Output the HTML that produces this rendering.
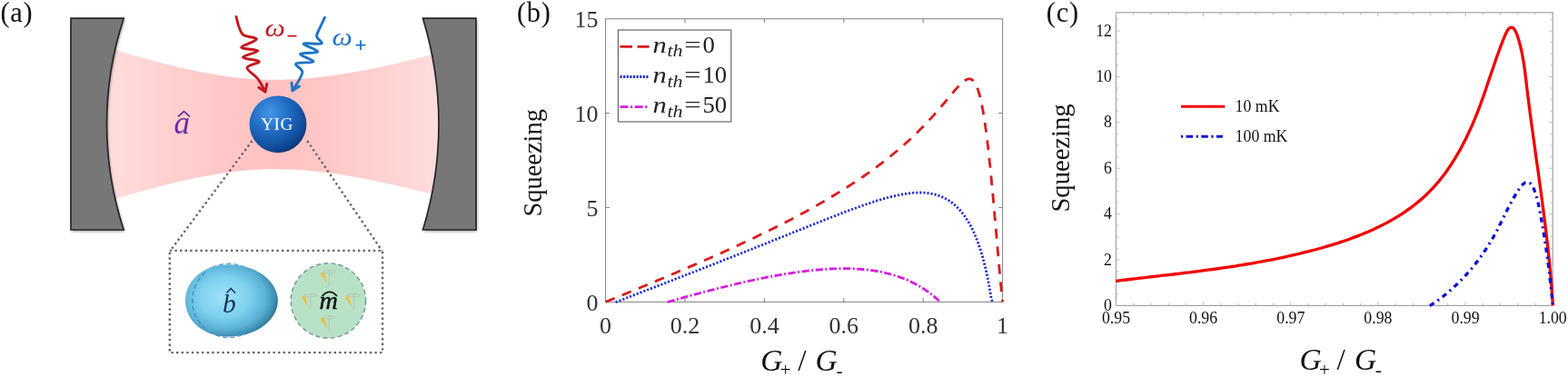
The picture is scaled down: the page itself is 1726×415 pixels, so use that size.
<!DOCTYPE html>
<html><head><meta charset="utf-8"><title>Figure</title>
<style>
html,body{margin:0;padding:0;background:#fff;}
body{width:1726px;height:415px;overflow:hidden;font-family:"Liberation Serif",serif;}
svg{display:block;}
text{font-family:"Liberation Serif",serif;}
</style></head><body>
<svg width="1726" height="415" viewBox="0 0 1726 415">
<rect width="1726" height="415" fill="#ffffff"/>
<defs>
<linearGradient id="beam" x1="0" x2="1" y1="0" y2="0"><stop offset="0" stop-color="#ffdede"/><stop offset="0.2" stop-color="#ffd0d0"/><stop offset="0.36" stop-color="#ffc7c7"/><stop offset="0.5" stop-color="#ffc2c2"/><stop offset="0.64" stop-color="#ffc7c7"/><stop offset="0.8" stop-color="#ffd0d0"/><stop offset="1" stop-color="#ffdede"/></linearGradient>
<radialGradient id="yig" cx="0.36" cy="0.30" r="0.78"><stop offset="0" stop-color="#4496ea"/><stop offset="0.45" stop-color="#1f6ac2"/><stop offset="0.8" stop-color="#114a98"/><stop offset="1" stop-color="#0a2f6c"/></radialGradient>
<radialGradient id="egg" cx="0.42" cy="0.45" r="0.6"><stop offset="0" stop-color="#9fe3f8"/><stop offset="0.45" stop-color="#7fd1ee"/><stop offset="0.75" stop-color="#5ab2d6"/><stop offset="0.92" stop-color="#3c8cae"/><stop offset="1" stop-color="#286f8c"/></radialGradient>
<filter id="sh" x="-20%" y="-20%" width="150%" height="150%"><feGaussianBlur stdDeviation="1.6"/></filter>
<filter id="soft" x="-5%" y="-5%" width="110%" height="110%"><feGaussianBlur stdDeviation="0.6"/></filter>
</defs>
<g id="panel-a">
<text x="0.5" y="24" font-size="30.5" letter-spacing="0.7" fill="#111">(a)</text>
<path d="M116.0,51.8L120.7,53.2L125.3,54.6L129.9,56.0L134.6,57.4L139.2,58.7L143.9,60.1L148.6,61.4L153.2,62.7L157.8,64.0L162.5,65.3L167.2,66.5L171.8,67.8L176.4,69.0L181.1,70.2L185.8,71.3L190.4,72.5L195.1,73.6L199.7,74.7L204.4,75.7L209.0,76.7L213.7,77.7L218.3,78.7L222.9,79.6L227.6,80.5L232.2,81.3L236.9,82.1L241.6,82.9L246.2,83.6L250.9,84.2L255.5,84.8L260.1,85.4L264.8,85.9L269.5,86.3L274.1,86.7L278.8,87.0L283.4,87.3L288.1,87.5L292.7,87.7L297.4,87.8L302.0,87.8L306.6,87.8L311.3,87.7L316.0,87.6L320.6,87.4L325.2,87.2L329.9,86.9L334.6,86.6L339.2,86.2L343.9,85.8L348.5,85.3L353.1,84.8L357.8,84.3L362.5,83.7L367.1,83.0L371.8,82.4L376.4,81.7L381.1,80.9L385.7,80.1L390.4,79.3L395.0,78.5L399.7,77.6L404.3,76.7L409.0,75.8L413.6,74.8L418.2,73.8L422.9,72.8L427.6,71.8L432.2,70.8L436.9,69.7L441.5,68.6L446.2,67.5L450.8,66.4L455.5,65.2L460.1,64.1L464.8,62.9L469.4,61.7L474.1,60.5L478.7,59.3L483.4,58.0L488.0,56.8L488.0,217.2L483.4,216.0L478.7,214.7L474.1,213.5L469.4,212.3L464.8,211.1L460.1,209.9L455.5,208.8L450.8,207.6L446.2,206.5L441.5,205.4L436.9,204.3L432.2,203.2L427.6,202.2L422.9,201.2L418.2,200.2L413.6,199.2L409.0,198.2L404.3,197.3L399.7,196.4L395.0,195.5L390.4,194.7L385.7,193.9L381.1,193.1L376.4,192.3L371.8,191.6L367.1,191.0L362.5,190.3L357.8,189.7L353.1,189.2L348.5,188.7L343.9,188.2L339.2,187.8L334.6,187.4L329.9,187.1L325.2,186.8L320.6,186.6L316.0,186.4L311.3,186.3L306.6,186.2L302.0,186.2L297.4,186.2L292.7,186.3L288.1,186.5L283.4,186.7L278.8,187.0L274.1,187.3L269.5,187.7L264.8,188.1L260.1,188.6L255.5,189.2L250.9,189.8L246.2,190.4L241.6,191.1L236.9,191.9L232.2,192.7L227.6,193.5L222.9,194.4L218.3,195.3L213.7,196.3L209.0,197.3L204.4,198.3L199.7,199.3L195.1,200.4L190.4,201.5L185.8,202.7L181.1,203.8L176.4,205.0L171.8,206.2L167.2,207.5L162.5,208.7L157.8,210.0L153.2,211.3L148.6,212.6L143.9,213.9L139.2,215.3L134.6,216.6L129.9,218.0L125.3,219.4L120.7,220.8L116.0,222.2 Z" fill="url(#beam)" filter="url(#soft)"/>
<g><path d="M78,20.2 L136.2,20.2 A371.6,371.6 0 0 0 136.2,253 L78,253 Z" fill="#000" opacity="0.4" filter="url(#sh)" transform="translate(1.2,1.8)"/><path d="M78,20.2 L136.2,20.2 A371.6,371.6 0 0 0 136.2,253 L78,253 Z" fill="#777777" stroke="#262626" stroke-width="1.7" stroke-linejoin="miter"/></g>
<g><path d="M524,20.2 L465.5,20.2 A396,396 0 0 1 465.5,253 L524,253 Z" fill="#000" opacity="0.4" filter="url(#sh)" transform="translate(1.2,1.8)"/><path d="M524,20.2 L465.5,20.2 A396,396 0 0 1 465.5,253 L524,253 Z" fill="#777777" stroke="#262626" stroke-width="1.7" stroke-linejoin="miter"/></g>
<g stroke="#666" stroke-width="2.4" stroke-dasharray="2.4 3.2" fill="none">
<path d="M277.5,155 L187.5,276"/>
<path d="M338.2,155 L420.5,276"/>
<rect x="186.8" y="275.9" width="234.3" height="112.2"/>
</g>
<circle cx="306" cy="136.8" r="31.4" fill="url(#yig)"/>
<text x="305" y="143.4" font-size="19.2" letter-spacing="0.4" fill="#fff" text-anchor="middle">YIG</text>
<path d="M260.0,18.4C260.5,20.2 261.6,25.9 262.9,29.3C264.2,32.6 264.8,36.2 268.0,38.5C271.2,40.8 282.8,41.0 282.4,43.3C282.0,45.6 265.4,50.1 265.6,52.2C265.9,54.3 283.6,54.2 283.9,56.0C284.2,57.8 267.2,61.0 267.4,63.0C267.6,65.0 284.4,65.9 285.2,67.8C286.0,69.7 272.2,71.4 272.0,74.6C271.8,77.8 280.7,82.6 284.0,87.0C287.3,91.4 290.7,98.7 292.0,101.0" fill="none" stroke="#c4161c" stroke-width="2.9" stroke-linecap="round" stroke-linejoin="round"/><path d="M284.8,96.2 L292.0,101.0 L293.8,92.3" fill="none" stroke="#c4161c" stroke-width="2.9" stroke-linecap="round" stroke-linejoin="round"/>
<path d="M357.5,19.2C356.6,21.1 353.7,27.0 352.2,30.5C350.7,34.0 348.3,37.2 348.6,40.1C348.9,43.0 356.3,46.8 353.9,48.1C351.5,49.4 334.8,46.6 334.1,48.1C333.4,49.6 350.4,55.1 349.8,57.0C349.2,58.9 331.3,57.6 330.5,59.4C329.7,61.2 345.7,66.0 344.9,67.8C344.1,69.6 327.7,68.2 325.7,70.2C323.7,72.2 333.5,75.0 332.9,79.9C332.3,84.8 323.8,96.5 322.0,99.8" fill="none" stroke="#1f74c4" stroke-width="2.9" stroke-linecap="round" stroke-linejoin="round"/><path d="M321.0,91.2 L322.0,99.8 L329.4,95.0" fill="none" stroke="#1f74c4" stroke-width="2.9" stroke-linecap="round" stroke-linejoin="round"/>
<text transform="translate(291.5,39.6) scale(1.13,1)" font-size="28" font-style="italic" fill="#c4161c">ω</text>
<path d="M316.5,39.6 H326.5" stroke="#c4161c" stroke-width="1.8" fill="none"/>
<text transform="translate(365.5,49.6) scale(1.13,1)" font-size="28" font-style="italic" fill="#1f74c4">ω</text>
<path d="M391.5,49.6 H402.5 M397,44.2 V55" stroke="#1f74c4" stroke-width="1.8" fill="none"/>
<text x="191.5" y="147" font-size="35" font-style="italic" fill="#6a2d9c">a</text>
<path d="M196,128.4 L202.5,122.6 L209,128.4" fill="none" stroke="#6a2d9c" stroke-width="1.8"/>
<circle cx="252" cy="330.9" r="40.7" fill="none" stroke="#5b9bd5" stroke-width="1.3" stroke-dasharray="5 3.2"/>
<path d="M251,291.3 C284,291.3 305.8,311 305.8,331 C305.8,351 284,370.6 251,370.6 C224,370.6 204,353 204,331 C204,309 224,291.3 251,291.3 Z" fill="url(#egg)"/>
<path d="M226,300 A40.3,40.3 0 0 0 226,361.5" fill="none" stroke="#3f8cc4" stroke-width="1.3" stroke-dasharray="5 3.2"/>
<text x="245" y="344.4" font-size="29.5" font-style="italic" fill="#16305a">b</text>
<path d="M249.4,322.6 L254.2,317.6 L259,322.6" fill="none" stroke="#16305a" stroke-width="1.5"/>
<circle cx="361.4" cy="331" r="41.2" fill="#b8e2c5" stroke="#6f92a2" stroke-width="1.4" stroke-dasharray="5 3.2"/>
<g transform="translate(362.3,299.3)"><path d="M-10,1.2 L-5.5,0.8 L-2.2,13.5 Z" fill="#ecbf45"/><ellipse cx="0" cy="0" rx="7" ry="1.7" fill="none" stroke="#b0c6b8" stroke-width="1" opacity="0.85"/><path d="M0,-2.5 L0,15.5" stroke="#b0c6b8" stroke-width="1.2" opacity="0.85"/></g>
<g transform="translate(362.3,349.2)"><path d="M-10,1.2 L-5.5,0.8 L-2.2,13.5 Z" fill="#ecbf45"/><ellipse cx="0" cy="0" rx="7" ry="1.7" fill="none" stroke="#b0c6b8" stroke-width="1" opacity="0.85"/><path d="M0,-2.5 L0,15.5" stroke="#b0c6b8" stroke-width="1.2" opacity="0.85"/></g>
<g transform="translate(341.7,325.2)"><path d="M-10,1.2 L-5.5,0.8 L-2.2,13.5 Z" fill="#ecbf45"/><ellipse cx="0" cy="0" rx="7" ry="1.7" fill="none" stroke="#b0c6b8" stroke-width="1" opacity="0.85"/><path d="M0,-2.5 L0,15.5" stroke="#b0c6b8" stroke-width="1.2" opacity="0.85"/></g>
<g transform="translate(389.4,325.2)"><path d="M-10,1.2 L-5.5,0.8 L-2.2,13.5 Z" fill="#ecbf45"/><ellipse cx="0" cy="0" rx="7" ry="1.7" fill="none" stroke="#b0c6b8" stroke-width="1" opacity="0.85"/><path d="M0,-2.5 L0,15.5" stroke="#b0c6b8" stroke-width="1.2" opacity="0.85"/></g>
<text x="351.4" y="340.2" font-size="28.2" font-style="italic" fill="#111" stroke="#111" stroke-width="0.45">m</text>
<path d="M354.6,326 Q362.8,316.6 371,326" fill="none" stroke="#111" stroke-width="1.7"/>
</g>
<g id="panel-b">
<text x="569" y="24" font-size="30.5" letter-spacing="0.7" fill="#111">(b)</text>
<rect x="666.6" y="20.7" width="437.0" height="311.7" fill="none" stroke="#8c8c8c" stroke-width="1.1"/>
<path d="M754.0,332.4 v-4.5 M754.0,20.7 v4.5 M841.4,332.4 v-4.5 M841.4,20.7 v4.5 M928.8,332.4 v-4.5 M928.8,20.7 v4.5 M1016.2,332.4 v-4.5 M1016.2,20.7 v4.5 M666.6,228.5 h4.5 M1103.6,228.5 h-4.5 M666.6,124.6 h4.5 M1103.6,124.6 h-4.5" stroke="#8c8c8c" stroke-width="1.1" fill="none"/>
<text x="666.6" y="366.5" font-size="26" fill="#333" text-anchor="middle">0</text>
<text x="754.0" y="366.5" font-size="26" fill="#333" text-anchor="middle">0.2</text>
<text x="841.4" y="366.5" font-size="26" fill="#333" text-anchor="middle">0.4</text>
<text x="928.8" y="366.5" font-size="26" fill="#333" text-anchor="middle">0.6</text>
<text x="1016.2" y="366.5" font-size="26" fill="#333" text-anchor="middle">0.8</text>
<text x="1103.6" y="366.5" font-size="26" fill="#333" text-anchor="middle">1</text>
<text x="658.5" y="341.7" font-size="26" fill="#333" text-anchor="end">0</text>
<text x="658.5" y="237.8" font-size="26" fill="#333" text-anchor="end">5</text>
<text x="658.5" y="133.9" font-size="26" fill="#333" text-anchor="end">10</text>
<text x="658.5" y="30.0" font-size="26" fill="#333" text-anchor="end">15</text>
<text transform="translate(596.3,179.3) rotate(-90)" font-size="28.4" fill="#111" text-anchor="middle">Squeezing</text>
<text x="837.3" y="407.8" font-size="33.5" font-style="italic" fill="#111">G</text><text x="864.6" y="414.4" font-size="21" fill="#111" text-anchor="middle">+</text><text x="878.3" y="407.8" font-size="33.5" fill="#111">/</text><text x="897.6" y="407.8" font-size="33.5" font-style="italic" fill="#111">G</text><text x="923.9" y="415.0" font-size="21" fill="#111" text-anchor="middle">-</text>
<path d="M666.6,332.4L672.9,329.8L679.2,327.2L685.5,324.6L691.8,322.0L698.1,319.4L704.4,316.8L710.7,314.2L717.0,311.6L723.3,308.9L729.6,306.3L735.9,303.6L742.1,301.0L748.4,298.3L754.7,295.6L761.0,292.9L767.3,290.2L773.6,287.4L779.9,284.7L786.2,281.9L792.5,279.1L798.8,276.3L805.1,273.4L811.4,270.5L817.7,267.6L824.0,264.6L830.3,261.7L836.6,258.6L842.9,255.6L849.2,252.5L855.5,249.3L861.8,246.2L868.1,242.9L874.4,239.6L880.7,236.3L887.0,232.9L893.2,229.4L899.5,225.9L905.8,222.3L912.1,218.6L918.4,214.8L924.7,210.9L931.0,207.0L937.3,202.9L943.6,198.8L949.9,194.5L956.2,190.1L962.5,185.5L968.8,180.8L975.1,176.0L981.4,171.0L987.7,165.7L994.0,160.3L1000.3,154.7L1006.6,148.8L1012.9,142.6L1019.2,136.2L1025.5,129.4L1031.8,122.4L1038.0,115.0L1038.4,114.6L1038.7,114.2L1039.0,113.9L1039.4,113.5L1039.7,113.1L1040.0,112.7L1040.4,112.3L1040.7,111.9L1041.0,111.5L1041.3,111.1L1041.7,110.7L1042.0,110.3L1042.3,109.9L1042.7,109.5L1043.0,109.1L1043.3,108.7L1043.6,108.3L1044.0,107.9L1044.3,107.5L1044.6,107.1L1045.0,106.7L1045.3,106.3L1045.6,105.9L1046.0,105.5L1046.3,105.1L1046.6,104.7L1046.9,104.3L1047.3,103.9L1047.6,103.5L1047.9,103.1L1048.3,102.8L1048.6,102.4L1048.9,102.0L1049.2,101.6L1049.6,101.2L1049.9,100.8L1050.2,100.4L1050.6,100.0L1050.9,99.6L1051.2,99.2L1051.6,98.9L1051.9,98.5L1052.2,98.1L1052.5,97.7L1052.9,97.4L1053.2,97.0L1053.5,96.6L1053.9,96.2L1054.2,95.9L1054.5,95.5L1054.8,95.2L1055.2,94.8L1055.5,94.5L1055.8,94.1L1056.2,93.8L1056.5,93.4L1056.8,93.1L1057.2,92.8L1057.5,92.4L1057.8,92.1L1058.1,91.8L1058.5,91.5L1058.8,91.2L1059.1,90.9L1059.5,90.6L1059.8,90.3L1060.1,90.1L1060.4,89.8L1060.8,89.5L1061.1,89.3L1061.4,89.0L1061.8,88.8L1062.1,88.6L1062.4,88.4L1062.8,88.2L1063.1,88.0L1063.4,87.8L1063.7,87.7L1064.1,87.5L1064.4,87.4L1064.7,87.3L1065.1,87.2L1065.4,87.1L1065.7,87.0L1066.0,86.9L1066.4,86.9L1066.7,86.9L1067.0,86.9L1067.4,86.9L1067.7,86.9L1068.0,87.0L1068.4,87.1L1068.7,87.2L1069.0,87.3L1069.3,87.5L1069.7,87.6L1070.0,87.8L1070.3,88.1L1070.7,88.3L1071.0,88.6L1071.3,89.0L1071.6,89.3L1072.0,89.7L1072.3,90.1L1072.6,90.6L1073.0,91.1L1073.3,91.6L1073.6,92.1L1074.0,92.7L1074.3,93.4L1074.6,94.1L1074.9,94.8L1075.3,95.6L1075.6,96.4L1075.9,97.2L1076.3,98.1L1076.6,99.1L1076.9,100.1L1077.2,101.1L1077.6,102.2L1077.9,103.4L1078.2,104.5L1078.6,105.8L1078.9,107.1L1079.2,108.5L1079.6,109.9L1079.9,111.3L1080.2,112.8L1080.5,114.4L1080.9,116.1L1081.2,117.8L1081.5,119.5L1081.9,121.3L1082.2,123.2L1082.5,125.1L1082.8,127.1L1083.2,129.1L1083.5,131.2L1083.8,133.4L1084.2,135.6L1084.5,137.9L1084.8,140.2L1085.2,142.6L1085.5,145.1L1085.8,147.6L1086.1,150.2L1086.5,152.8L1086.8,155.5L1087.1,158.3L1087.5,161.1L1087.8,163.9L1088.1,166.8L1088.4,169.8L1088.8,172.8L1089.1,175.9L1089.4,179.0L1089.8,182.2L1090.1,185.4L1090.4,188.7L1090.8,192.0L1091.1,195.3L1091.4,198.7L1091.7,202.2L1092.1,205.7L1092.4,209.2L1092.7,212.7L1093.1,216.3L1093.4,219.9L1093.7,223.6L1094.0,227.3L1094.4,231.0L1094.7,234.7L1095.0,238.4L1095.4,242.2L1095.7,246.0L1096.0,249.8L1096.4,253.6L1096.7,257.4L1097.0,261.3L1097.3,265.1L1097.7,268.9L1098.0,272.7L1098.3,276.5L1098.7,280.3L1099.0,284.1L1099.3,287.8L1099.6,291.6L1100.0,295.2L1100.3,298.9L1100.6,302.5L1101.0,306.1L1101.3,309.6L1101.6,313.0L1102.0,316.4L1102.3,319.7L1102.6,322.9L1102.9,326.0L1103.3,329.2L1103.6,332.4" fill="none" stroke="#da1a1c" stroke-width="2.8" stroke-dasharray="10.8 8.8"/>
<path d="M677.7,332.4L679.1,332.2L680.5,331.6L681.9,331.1L683.3,330.5L684.7,330.0L686.1,329.5L687.5,328.9L688.8,328.4L690.2,327.8L691.6,327.3L693.0,326.8L694.4,326.2L695.8,325.7L697.2,325.1L698.5,324.6L699.9,324.1L701.3,323.5L702.7,323.0L704.1,322.5L705.5,321.9L706.9,321.4L708.3,320.8L709.6,320.3L711.0,319.8L712.4,319.2L713.8,318.7L715.2,318.1L716.6,317.6L718.0,317.1L719.4,316.5L720.7,316.0L722.1,315.5L723.5,314.9L724.9,314.4L726.3,313.8L727.7,313.3L729.1,312.8L730.4,312.2L731.8,311.7L733.2,311.2L734.6,310.6L736.0,310.1L737.4,309.5L738.8,309.0L740.2,308.5L741.5,307.9L742.9,307.4L744.3,306.8L745.7,306.3L747.1,305.8L748.5,305.2L749.9,304.7L751.3,304.2L752.6,303.6L754.0,303.1L755.4,302.5L756.8,302.0L758.2,301.5L759.6,300.9L761.0,300.4L762.4,299.8L763.7,299.3L765.1,298.7L766.5,298.2L767.9,297.7L769.3,297.1L770.7,296.6L772.1,296.0L773.4,295.5L774.8,295.0L776.2,294.4L777.6,293.9L779.0,293.3L780.4,292.8L781.8,292.2L783.2,291.7L784.5,291.2L785.9,290.6L787.3,290.1L788.7,289.5L790.1,289.0L791.5,288.4L792.9,287.9L794.3,287.3L795.6,286.8L797.0,286.2L798.4,285.7L799.8,285.2L801.2,284.6L802.6,284.1L804.0,283.5L805.3,283.0L806.7,282.4L808.1,281.9L809.5,281.3L810.9,280.8L812.3,280.2L813.7,279.7L815.1,279.1L816.4,278.6L817.8,278.0L819.2,277.5L820.6,276.9L822.0,276.4L823.4,275.8L824.8,275.3L826.2,274.7L827.5,274.2L828.9,273.6L830.3,273.1L831.7,272.5L833.1,271.9L834.5,271.4L835.9,270.8L837.2,270.3L838.6,269.7L840.0,269.2L841.4,268.6L842.8,268.1L844.2,267.5L845.6,267.0L847.0,266.4L848.3,265.8L849.7,265.3L851.1,264.7L852.5,264.2L853.9,263.6L855.3,263.1L856.7,262.5L858.1,261.9L859.4,261.4L860.8,260.8L862.2,260.3L863.6,259.7L865.0,259.2L866.4,258.6L867.8,258.0L869.1,257.5L870.5,256.9L871.9,256.4L873.3,255.8L874.7,255.3L876.1,254.7L877.5,254.1L878.9,253.6L880.2,253.0L881.6,252.5L883.0,251.9L884.4,251.4L885.8,250.8L887.2,250.2L888.6,249.7L890.0,249.1L891.3,248.6L892.7,248.0L894.1,247.5L895.5,246.9L896.9,246.4L898.3,245.8L899.7,245.2L901.1,244.7L902.4,244.1L903.8,243.6L905.2,243.0L906.6,242.5L908.0,241.9L909.4,241.4L910.8,240.9L912.1,240.3L913.5,239.8L914.9,239.2L916.3,238.7L917.7,238.1L919.1,237.6L920.5,237.1L921.9,236.5L923.2,236.0L924.6,235.5L926.0,234.9L927.4,234.4L928.8,233.9L930.2,233.3L931.6,232.8L933.0,232.3L934.3,231.8L935.7,231.2L937.1,230.7L938.5,230.2L939.9,229.7L941.3,229.2L942.7,228.7L944.0,228.2L945.4,227.7L946.8,227.2L948.2,226.7L949.6,226.2L951.0,225.7L952.4,225.3L953.8,224.8L955.1,224.3L956.5,223.8L957.9,223.4L959.3,222.9L960.7,222.5L962.1,222.0L963.5,221.6L964.9,221.1L966.2,220.7L967.6,220.3L969.0,219.9L970.4,219.4L971.8,219.0L973.2,218.6L974.6,218.3L975.9,217.9L977.3,217.5L978.7,217.1L980.1,216.8L981.5,216.4L982.9,216.1L984.3,215.8L985.7,215.4L987.0,215.1L988.4,214.8L989.8,214.6L991.2,214.3L992.6,214.0L994.0,213.8L995.4,213.5L996.8,213.3L998.1,213.1L999.5,212.9L1000.9,212.8L1002.3,212.6L1003.7,212.5L1005.1,212.3L1006.5,212.2L1007.8,212.2L1009.2,212.1L1010.6,212.1L1012.0,212.0L1013.4,212.0L1014.8,212.1L1016.2,212.1L1017.6,212.2L1018.9,212.3L1020.3,212.4L1021.7,212.6L1023.1,212.8L1024.5,213.0L1025.9,213.3L1027.3,213.6L1028.7,213.9L1030.0,214.3L1031.4,214.7L1032.8,215.1L1034.2,215.6L1035.6,216.1L1037.0,216.7L1038.4,217.3L1039.8,218.0L1041.1,218.7L1042.5,219.5L1043.9,220.4L1045.3,221.3L1046.7,222.2L1048.1,223.3L1049.5,224.4L1050.8,225.5L1052.2,226.8L1053.6,228.1L1055.0,229.5L1056.4,231.0L1057.8,232.6L1059.2,234.3L1060.6,236.1L1061.9,238.0L1063.3,240.1L1064.7,242.2L1066.1,244.5L1067.5,246.9L1068.9,249.5L1070.3,252.3L1071.7,255.2L1073.0,258.3L1074.4,261.6L1075.8,265.1L1077.2,268.9L1078.6,273.0L1080.0,277.3L1081.4,282.0L1082.7,287.0L1084.1,292.4L1085.5,298.3L1086.9,304.8L1088.3,311.8L1089.7,319.6L1091.1,328.2L1092.5,332.4" fill="none" stroke="#1c2ad6" stroke-width="2.8" stroke-dasharray="2.1 2.0"/>
<path d="M734.6,332.4L735.6,332.3L736.6,332.0L737.6,331.7L738.6,331.5L739.6,331.2L740.6,330.9L741.6,330.6L742.6,330.3L743.6,330.0L744.6,329.7L745.6,329.4L746.6,329.2L747.6,328.9L748.7,328.6L749.7,328.3L750.7,328.0L751.7,327.7L752.7,327.5L753.7,327.2L754.7,326.9L755.7,326.6L756.7,326.3L757.7,326.1L758.7,325.8L759.7,325.5L760.7,325.2L761.7,325.0L762.7,324.7L763.8,324.4L764.8,324.1L765.8,323.9L766.8,323.6L767.8,323.3L768.8,323.0L769.8,322.8L770.8,322.5L771.8,322.2L772.8,322.0L773.8,321.7L774.8,321.4L775.8,321.2L776.8,320.9L777.9,320.6L778.9,320.4L779.9,320.1L780.9,319.9L781.9,319.6L782.9,319.3L783.9,319.1L784.9,318.8L785.9,318.6L786.9,318.3L787.9,318.0L788.9,317.8L789.9,317.5L790.9,317.3L792.0,317.0L793.0,316.8L794.0,316.5L795.0,316.3L796.0,316.0L797.0,315.8L798.0,315.5L799.0,315.3L800.0,315.0L801.0,314.8L802.0,314.5L803.0,314.3L804.0,314.1L805.0,313.8L806.1,313.6L807.1,313.3L808.1,313.1L809.1,312.9L810.1,312.6L811.1,312.4L812.1,312.2L813.1,311.9L814.1,311.7L815.1,311.5L816.1,311.2L817.1,311.0L818.1,310.8L819.1,310.5L820.1,310.3L821.2,310.1L822.2,309.9L823.2,309.6L824.2,309.4L825.2,309.2L826.2,309.0L827.2,308.8L828.2,308.5L829.2,308.3L830.2,308.1L831.2,307.9L832.2,307.7L833.2,307.5L834.2,307.3L835.3,307.1L836.3,306.9L837.3,306.6L838.3,306.4L839.3,306.2L840.3,306.0L841.3,305.8L842.3,305.6L843.3,305.4L844.3,305.2L845.3,305.0L846.3,304.9L847.3,304.7L848.3,304.5L849.4,304.3L850.4,304.1L851.4,303.9L852.4,303.7L853.4,303.5L854.4,303.4L855.4,303.2L856.4,303.0L857.4,302.8L858.4,302.6L859.4,302.5L860.4,302.3L861.4,302.1L862.4,302.0L863.4,301.8L864.5,301.6L865.5,301.5L866.5,301.3L867.5,301.1L868.5,301.0L869.5,300.8L870.5,300.7L871.5,300.5L872.5,300.4L873.5,300.2L874.5,300.1L875.5,299.9L876.5,299.8L877.5,299.6L878.6,299.5L879.6,299.3L880.6,299.2L881.6,299.1L882.6,298.9L883.6,298.8L884.6,298.7L885.6,298.6L886.6,298.4L887.6,298.3L888.6,298.2L889.6,298.1L890.6,298.0L891.6,297.9L892.7,297.7L893.7,297.6L894.7,297.5L895.7,297.4L896.7,297.3L897.7,297.2L898.7,297.1L899.7,297.0L900.7,297.0L901.7,296.9L902.7,296.8L903.7,296.7L904.7,296.6L905.7,296.5L906.8,296.5L907.8,296.4L908.8,296.3L909.8,296.3L910.8,296.2L911.8,296.2L912.8,296.1L913.8,296.0L914.8,296.0L915.8,295.9L916.8,295.9L917.8,295.9L918.8,295.8L919.8,295.8L920.8,295.8L921.9,295.7L922.9,295.7L923.9,295.7L924.9,295.7L925.9,295.7L926.9,295.7L927.9,295.6L928.9,295.6L929.9,295.6L930.9,295.6L931.9,295.7L932.9,295.7L933.9,295.7L934.9,295.7L936.0,295.7L937.0,295.8L938.0,295.8L939.0,295.8L940.0,295.9L941.0,295.9L942.0,296.0L943.0,296.0L944.0,296.1L945.0,296.2L946.0,296.2L947.0,296.3L948.0,296.4L949.0,296.5L950.1,296.5L951.1,296.6L952.1,296.7L953.1,296.8L954.1,296.9L955.1,297.1L956.1,297.2L957.1,297.3L958.1,297.4L959.1,297.6L960.1,297.7L961.1,297.8L962.1,298.0L963.1,298.2L964.1,298.3L965.2,298.5L966.2,298.7L967.2,298.8L968.2,299.0L969.2,299.2L970.2,299.4L971.2,299.6L972.2,299.8L973.2,300.1L974.2,300.3L975.2,300.5L976.2,300.8L977.2,301.0L978.2,301.3L979.3,301.5L980.3,301.8L981.3,302.1L982.3,302.4L983.3,302.7L984.3,303.0L985.3,303.3L986.3,303.6L987.3,303.9L988.3,304.3L989.3,304.6L990.3,305.0L991.3,305.3L992.3,305.7L993.4,306.1L994.4,306.5L995.4,306.9L996.4,307.3L997.4,307.7L998.4,308.1L999.4,308.5L1000.4,309.0L1001.4,309.5L1002.4,309.9L1003.4,310.4L1004.4,310.9L1005.4,311.4L1006.4,311.9L1007.5,312.4L1008.5,313.0L1009.5,313.5L1010.5,314.1L1011.5,314.7L1012.5,315.3L1013.5,315.9L1014.5,316.5L1015.5,317.1L1016.5,317.8L1017.5,318.4L1018.5,319.1L1019.5,319.8L1020.5,320.5L1021.5,321.2L1022.6,321.9L1023.6,322.7L1024.6,323.5L1025.6,324.2L1026.6,325.0L1027.6,325.9L1028.6,326.7L1029.6,327.6L1030.6,328.4L1031.6,329.3L1032.6,330.3L1033.6,331.2L1034.6,332.2L1035.6,332.4" fill="none" stroke="#d41ce0" stroke-width="2.8" stroke-dasharray="8.2 2.5 2 2.5"/>
<rect x="680.4" y="33" width="124.4" height="101" fill="#fff" stroke="#595959" stroke-width="1.1"/>
<path d="M682.5,51.3 H714.6" stroke="#da1a1c" stroke-width="2.8" stroke-dasharray="13.5 5.6" fill="none"/>
<text transform="translate(718.6,57.8) scale(1.22,1)" font-size="25" font-style="italic" fill="#222">n</text>
<text transform="translate(734.5,62.4) scale(1.22,1)" font-size="18" font-style="italic" fill="#222">th</text>
<text transform="translate(753.3,57.8) scale(1.3,1)" font-size="25" fill="#222">=</text>
<text transform="translate(773.5,57.8) scale(1.07,1)" font-size="25" fill="#222">0</text>
<path d="M682.5,84.5 H714.6" stroke="#1c2ad6" stroke-width="2.8" stroke-dasharray="2.2 1.4" fill="none"/>
<text transform="translate(718.6,91.0) scale(1.22,1)" font-size="25" font-style="italic" fill="#222">n</text>
<text transform="translate(734.5,95.6) scale(1.22,1)" font-size="18" font-style="italic" fill="#222">th</text>
<text transform="translate(753.3,91.0) scale(1.3,1)" font-size="25" fill="#222">=</text>
<text transform="translate(773.5,91.0) scale(1.07,1)" font-size="25" fill="#222">10</text>
<path d="M682.5,117.7 H714.6" stroke="#d41ce0" stroke-width="2.8" stroke-dasharray="9 2.5 2.2 2.5" fill="none"/>
<text transform="translate(718.6,124.2) scale(1.22,1)" font-size="25" font-style="italic" fill="#222">n</text>
<text transform="translate(734.5,128.8) scale(1.22,1)" font-size="18" font-style="italic" fill="#222">th</text>
<text transform="translate(753.3,124.2) scale(1.3,1)" font-size="25" fill="#222">=</text>
<text transform="translate(773.5,124.2) scale(1.07,1)" font-size="25" fill="#222">50</text>
</g>
<g id="panel-c">
<text x="1151.8" y="24" font-size="30.5" letter-spacing="0.7" fill="#111">(c)</text>
<rect x="1228.5" y="13.8" width="480.7" height="322.6" fill="none" stroke="#a2a2a2" stroke-width="1.2"/>
<path d="M1228.5,336.4 v-4.2 M1228.5,13.8 v4.2 M1247.7,336.4 v-2.6 M1247.7,13.8 v2.6 M1267.0,336.4 v-2.6 M1267.0,13.8 v2.6 M1286.2,336.4 v-2.6 M1286.2,13.8 v2.6 M1305.4,336.4 v-2.6 M1305.4,13.8 v2.6 M1324.6,336.4 v-4.2 M1324.6,13.8 v4.2 M1343.9,336.4 v-2.6 M1343.9,13.8 v2.6 M1363.1,336.4 v-2.6 M1363.1,13.8 v2.6 M1382.3,336.4 v-2.6 M1382.3,13.8 v2.6 M1401.6,336.4 v-2.6 M1401.6,13.8 v2.6 M1420.8,336.4 v-4.2 M1420.8,13.8 v4.2 M1440.0,336.4 v-2.6 M1440.0,13.8 v2.6 M1459.2,336.4 v-2.6 M1459.2,13.8 v2.6 M1478.5,336.4 v-2.6 M1478.5,13.8 v2.6 M1497.7,336.4 v-2.6 M1497.7,13.8 v2.6 M1516.9,336.4 v-4.2 M1516.9,13.8 v4.2 M1536.1,336.4 v-2.6 M1536.1,13.8 v2.6 M1555.4,336.4 v-2.6 M1555.4,13.8 v2.6 M1574.6,336.4 v-2.6 M1574.6,13.8 v2.6 M1593.8,336.4 v-2.6 M1593.8,13.8 v2.6 M1613.1,336.4 v-4.2 M1613.1,13.8 v4.2 M1632.3,336.4 v-2.6 M1632.3,13.8 v2.6 M1651.5,336.4 v-2.6 M1651.5,13.8 v2.6 M1670.7,336.4 v-2.6 M1670.7,13.8 v2.6 M1690.0,336.4 v-2.6 M1690.0,13.8 v2.6 M1709.2,336.4 v-4.2 M1709.2,13.8 v4.2 M1228.5,336.4 h4.2 M1709.2,336.4 h-4.2 M1228.5,323.8 h2.6 M1709.2,323.8 h-2.6 M1228.5,311.2 h2.6 M1709.2,311.2 h-2.6 M1228.5,298.6 h2.6 M1709.2,298.6 h-2.6 M1228.5,286.0 h4.2 M1709.2,286.0 h-4.2 M1228.5,273.4 h2.6 M1709.2,273.4 h-2.6 M1228.5,260.8 h2.6 M1709.2,260.8 h-2.6 M1228.5,248.2 h2.6 M1709.2,248.2 h-2.6 M1228.5,235.6 h4.2 M1709.2,235.6 h-4.2 M1228.5,223.0 h2.6 M1709.2,223.0 h-2.6 M1228.5,210.4 h2.6 M1709.2,210.4 h-2.6 M1228.5,197.8 h2.6 M1709.2,197.8 h-2.6 M1228.5,185.2 h4.2 M1709.2,185.2 h-4.2 M1228.5,172.6 h2.6 M1709.2,172.6 h-2.6 M1228.5,160.0 h2.6 M1709.2,160.0 h-2.6 M1228.5,147.4 h2.6 M1709.2,147.4 h-2.6 M1228.5,134.8 h4.2 M1709.2,134.8 h-4.2 M1228.5,122.2 h2.6 M1709.2,122.2 h-2.6 M1228.5,109.6 h2.6 M1709.2,109.6 h-2.6 M1228.5,97.0 h2.6 M1709.2,97.0 h-2.6 M1228.5,84.4 h4.2 M1709.2,84.4 h-4.2 M1228.5,71.8 h2.6 M1709.2,71.8 h-2.6 M1228.5,59.2 h2.6 M1709.2,59.2 h-2.6 M1228.5,46.6 h2.6 M1709.2,46.6 h-2.6 M1228.5,34.0 h4.2 M1709.2,34.0 h-4.2 M1228.5,21.4 h2.6 M1709.2,21.4 h-2.6" stroke="#b4b4b4" stroke-width="0.9" fill="none"/>
<text x="1228.5" y="356.2" font-size="17.8" fill="#111" text-anchor="middle">0.95</text>
<text x="1324.6" y="356.2" font-size="17.8" fill="#111" text-anchor="middle">0.96</text>
<text x="1420.8" y="356.2" font-size="17.8" fill="#111" text-anchor="middle">0.97</text>
<text x="1516.9" y="356.2" font-size="17.8" fill="#111" text-anchor="middle">0.98</text>
<text x="1613.1" y="356.2" font-size="17.8" fill="#111" text-anchor="middle">0.99</text>
<text x="1709.2" y="356.2" font-size="17.8" fill="#111" text-anchor="middle">1.00</text>
<text x="1224" y="342.0" font-size="17.8" fill="#111" text-anchor="end">0</text>
<text x="1224" y="291.6" font-size="17.8" fill="#111" text-anchor="end">2</text>
<text x="1224" y="241.2" font-size="17.8" fill="#111" text-anchor="end">4</text>
<text x="1224" y="190.8" font-size="17.8" fill="#111" text-anchor="end">6</text>
<text x="1224" y="140.4" font-size="17.8" fill="#111" text-anchor="end">8</text>
<text x="1224" y="90.0" font-size="17.8" fill="#111" text-anchor="end">10</text>
<text x="1224" y="39.6" font-size="17.8" fill="#111" text-anchor="end">12</text>
<text transform="translate(1177.3,174) rotate(-90)" font-size="28.6" fill="#111" text-anchor="middle">Squeezing</text>
<text x="1430.6" y="407.2" font-size="33.5" font-style="italic" fill="#111">G</text><text x="1457.9" y="413.8" font-size="21" fill="#111" text-anchor="middle">+</text><text x="1471.6" y="407.2" font-size="33.5" fill="#111">/</text><text x="1490.9" y="407.2" font-size="33.5" font-style="italic" fill="#111">G</text><text x="1517.2" y="414.4" font-size="21" fill="#111" text-anchor="middle">-</text>
<path d="M1228.3,309.3L1232.1,308.8L1235.8,308.4L1239.5,308.0L1243.3,307.5L1247.0,307.1L1250.7,306.7L1254.4,306.2L1258.1,305.8L1261.8,305.4L1265.5,304.9L1269.2,304.5L1272.9,304.1L1276.6,303.7L1280.2,303.2L1283.9,302.8L1287.6,302.4L1291.3,302.0L1294.9,301.5L1298.6,301.1L1302.2,300.6L1305.9,300.2L1309.5,299.8L1313.2,299.3L1316.8,298.8L1320.5,298.4L1324.1,297.9L1327.8,297.4L1331.4,296.9L1335.0,296.5L1338.7,296.0L1342.3,295.4L1345.9,294.9L1349.5,294.4L1353.2,293.9L1356.8,293.3L1360.4,292.8L1364.0,292.2L1367.6,291.6L1371.3,291.0L1374.9,290.4L1378.5,289.8L1382.1,289.2L1385.7,288.5L1389.3,287.8L1392.9,287.2L1396.6,286.5L1400.2,285.8L1403.8,285.1L1407.4,284.3L1411.0,283.6L1414.6,282.8L1418.2,282.0L1421.9,281.2L1425.5,280.4L1429.1,279.5L1432.7,278.6L1436.3,277.7L1440.0,276.8L1443.6,275.9L1447.2,275.0L1450.8,274.0L1454.5,273.0L1458.1,272.0L1461.7,270.9L1465.3,269.8L1468.9,268.7L1472.5,267.6L1476.1,266.4L1479.6,265.2L1483.2,264.0L1486.7,262.7L1490.2,261.4L1493.7,260.1L1497.2,258.7L1500.7,257.3L1504.1,255.9L1507.5,254.4L1510.9,252.9L1514.3,251.3L1517.7,249.7L1521.0,248.1L1524.3,246.4L1527.5,244.7L1530.7,242.9L1533.9,241.1L1537.1,239.2L1540.2,237.3L1543.3,235.3L1546.3,233.3L1549.3,231.2L1552.3,229.1L1555.2,226.9L1558.1,224.7L1560.9,222.4L1563.7,220.1L1566.4,217.7L1569.1,215.2L1571.7,212.7L1574.3,210.1L1576.8,207.5L1579.3,204.8L1581.7,202.0L1584.1,199.2L1586.4,196.3L1588.6,193.4L1590.9,190.5L1593.0,187.5L1595.1,184.4L1597.2,181.3L1599.2,178.2L1601.2,175.1L1603.1,171.9L1605.0,168.6L1606.9,165.4L1608.7,162.1L1610.4,158.8L1612.1,155.5L1613.8,152.2L1615.4,148.8L1617.0,145.4L1618.6,142.0L1620.1,138.6L1621.6,135.2L1623.0,131.8L1624.4,128.4L1625.8,125.0L1627.1,121.6L1628.4,118.2L1629.7,114.8L1630.9,111.4L1632.1,108.0L1633.3,104.6L1634.5,101.2L1635.7,97.7L1636.8,94.3L1638.0,90.9L1639.1,87.4L1640.3,84.0L1641.5,80.5L1642.7,77.0L1643.9,73.5L1645.1,69.9L1646.3,66.4L1647.6,62.8L1648.9,59.2L1650.2,55.5L1651.6,51.8L1653.0,48.1L1654.4,44.4L1656.0,40.6L1657.5,36.9L1659.2,33.7L1661.0,31.3L1662.9,30.1L1664.9,30.3L1666.7,31.8L1668.3,34.5L1669.8,37.9L1671.1,41.9L1672.3,45.9L1673.4,50.0L1674.3,53.9L1675.2,57.8L1675.9,61.6L1676.6,65.4L1677.2,69.1L1677.8,72.8L1678.3,76.5L1678.8,80.1L1679.2,83.8L1679.7,87.4L1680.1,91.0L1680.5,94.6L1680.9,98.2L1681.4,101.8L1681.8,105.4L1682.3,109.0L1682.7,112.6L1683.2,116.3L1683.7,119.9L1684.1,123.5L1684.6,127.2L1685.1,130.8L1685.6,134.4L1686.1,138.1L1686.6,141.7L1687.1,145.4L1687.6,149.0L1688.1,152.7L1688.6,156.3L1689.1,160.0L1689.6,163.7L1690.1,167.3L1690.6,171.0L1691.1,174.7L1691.6,178.3L1692.1,182.0L1692.7,185.7L1693.2,189.3L1693.7,193.0L1694.2,196.7L1694.7,200.4L1695.2,204.0L1695.7,207.7L1696.2,211.4L1696.7,215.1L1697.2,218.8L1697.7,222.4L1698.1,226.1L1698.6,229.8L1699.1,233.5L1699.6,237.2L1700.0,240.8L1700.5,244.5L1701.0,248.2L1701.4,251.9L1701.9,255.6L1702.3,259.3L1702.7,262.9L1703.1,266.6L1703.6,270.3L1704.0,274.0L1704.4,277.7L1704.7,281.3L1705.1,285.0L1705.5,288.7L1705.9,292.4L1706.2,296.0L1706.6,299.7L1706.9,303.4L1707.2,307.0L1707.5,310.7L1707.8,314.4L1708.1,318.0L1708.4,321.7L1708.6,325.3L1708.9,329.0L1709.1,332.7L1709.3,336.3" fill="none" stroke="#f20000" stroke-width="3.3" stroke-linejoin="round"/>
<path d="M1573.9,336.6L1575.0,335.9L1576.1,335.2L1577.2,334.5L1578.3,333.7L1579.3,333.0L1580.4,332.2L1581.5,331.5L1582.6,330.7L1583.6,330.0L1584.7,329.2L1585.7,328.4L1586.8,327.6L1587.8,326.8L1588.9,326.0L1589.9,325.1L1590.9,324.3L1592.0,323.5L1593.0,322.6L1594.0,321.8L1595.0,320.9L1596.0,320.0L1597.0,319.1L1598.0,318.3L1599.0,317.4L1600.0,316.5L1601.0,315.5L1602.0,314.6L1602.9,313.7L1603.9,312.8L1604.9,311.8L1605.8,310.9L1606.8,309.9L1607.7,309.0L1608.7,308.0L1609.6,307.1L1610.5,306.1L1611.5,305.1L1612.4,304.1L1613.3,303.1L1614.2,302.1L1615.1,301.1L1616.0,300.1L1616.9,299.1L1617.8,298.1L1618.6,297.0L1619.5,296.0L1620.4,295.0L1621.2,293.9L1622.1,292.9L1622.9,291.8L1623.8,290.8L1624.6,289.7L1625.4,288.6L1626.3,287.6L1627.1,286.5L1627.9,285.4L1628.7,284.3L1629.5,283.2L1630.3,282.1L1631.1,281.0L1631.8,279.9L1632.6,278.8L1633.4,277.7L1634.1,276.6L1634.9,275.5L1635.6,274.4L1636.3,273.3L1637.1,272.1L1637.8,271.0L1638.5,269.9L1639.2,268.7L1639.9,267.6L1640.6,266.5L1641.3,265.3L1642.0,264.2L1642.7,263.0L1643.3,261.9L1644.0,260.7L1644.6,259.6L1645.3,258.4L1645.9,257.3L1646.5,256.1L1647.1,255.0L1647.8,253.8L1648.4,252.7L1649.0,251.5L1649.6,250.3L1650.2,249.2L1650.7,248.0L1651.3,246.8L1651.9,245.6L1652.5,244.5L1653.1,243.3L1653.6,242.1L1654.2,240.9L1654.8,239.8L1655.4,238.6L1655.9,237.4L1656.5,236.2L1657.1,235.0L1657.7,233.8L1658.3,232.6L1658.9,231.4L1659.5,230.2L1660.1,229.0L1660.7,227.8L1661.3,226.6L1662.0,225.4L1662.6,224.2L1663.3,223.0L1663.9,221.8L1664.6,220.6L1665.3,219.4L1666.0,218.2L1666.7,216.9L1667.4,215.7L1668.1,214.5L1668.9,213.3L1669.6,212.0L1670.4,210.8L1671.2,209.6L1672.0,208.3L1672.8,207.1L1673.7,206.0L1674.5,204.9L1675.4,203.9L1676.2,203.0L1677.1,202.2L1678.0,201.5L1678.9,200.9L1679.8,200.6L1680.7,200.4L1681.5,200.3L1682.4,200.5L1683.3,200.9L1684.1,201.5L1684.9,202.2L1685.7,203.1L1686.4,204.1L1687.1,205.3L1687.7,206.5L1688.3,207.8L1688.9,209.2L1689.4,210.6L1689.9,212.0L1690.4,213.4L1690.8,214.7L1691.2,216.1L1691.6,217.4L1692.0,218.8L1692.3,220.1L1692.7,221.4L1693.0,222.8L1693.3,224.1L1693.5,225.4L1693.8,226.7L1694.1,228.0L1694.3,229.3L1694.6,230.6L1694.9,231.9L1695.1,233.3L1695.4,234.6L1695.6,235.9L1695.9,237.2L1696.1,238.5L1696.3,239.8L1696.6,241.1L1696.8,242.4L1697.1,243.7L1697.3,245.1L1697.5,246.4L1697.8,247.7L1698.0,249.0L1698.2,250.3L1698.4,251.6L1698.7,252.9L1698.9,254.3L1699.1,255.6L1699.3,256.9L1699.5,258.2L1699.7,259.5L1700.0,260.8L1700.2,262.1L1700.4,263.5L1700.6,264.8L1700.8,266.1L1701.0,267.4L1701.2,268.7L1701.4,270.1L1701.6,271.4L1701.8,272.7L1702.0,274.0L1702.1,275.3L1702.3,276.7L1702.5,278.0L1702.7,279.3L1702.9,280.6L1703.1,281.9L1703.3,283.3L1703.4,284.6L1703.6,285.9L1703.8,287.2L1704.0,288.6L1704.1,289.9L1704.3,291.2L1704.5,292.5L1704.6,293.9L1704.8,295.2L1705.0,296.5L1705.1,297.8L1705.3,299.2L1705.5,300.5L1705.6,301.8L1705.8,303.1L1705.9,304.5L1706.1,305.8L1706.2,307.1L1706.4,308.4L1706.5,309.8L1706.7,311.1L1706.8,312.4L1707.0,313.8L1707.1,315.1L1707.3,316.4L1707.4,317.8L1707.6,319.1L1707.7,320.4L1707.9,321.7L1708.0,323.1L1708.1,324.4L1708.3,325.7L1708.4,327.1L1708.5,328.4L1708.7,329.7L1708.8,331.1L1708.9,332.4L1709.1,333.7L1709.2,335.1L1709.3,336.4" fill="none" stroke="#0b12d8" stroke-width="3.3" stroke-dasharray="5.6 4.6 2.1 4.6"/>
<path d="M1300,117.2 H1348.3" stroke="#f20000" stroke-width="3" fill="none"/>
<path d="M1300,150.2 H1346" stroke="#0b12d8" stroke-width="3" stroke-dasharray="7.5 3.6 2.2 3.4" stroke-dashoffset="11.1" fill="none"/>
<text x="1359.6" y="123.4" font-size="17.8" fill="#111">10 mK</text>
<text x="1359.6" y="156.1" font-size="17.8" fill="#111">100 mK</text>
</g>
</svg>
</body></html>
